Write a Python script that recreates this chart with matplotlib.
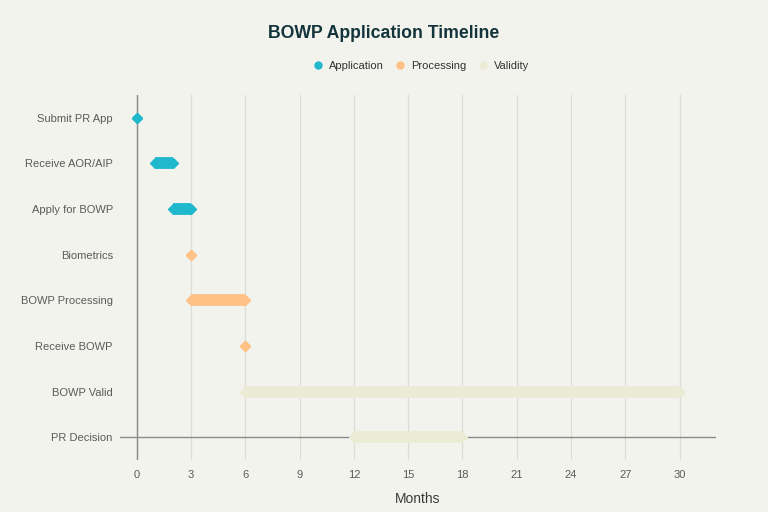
import matplotlib.pyplot as plt

plt.rcParams['font.family'] = ['Liberation Sans', 'DejaVu Sans']

tasks = ["Submit PR App", "Receive AOR/AIP", "Apply for BOWP", "Biometrics",
         "BOWP Processing", "Receive BOWP", "BOWP Valid", "PR Decision"]
starts = [0, 1, 2, 3, 3, 6, 6, 12]
ends = [0, 2, 3, 3, 6, 6, 30, 18]
phases = ["Application", "Application", "Application", "Processing",
          "Processing", "Processing", "Validity", "Validity"]
phase_names = ["Application", "Processing", "Validity"]
phase_colors = {"Application": "#1FB8CD", "Processing": "#FFC185", "Validity": "#ECEBD5"}
xticks = [0, 3, 6, 9, 12, 15, 18, 21, 24, 27, 30]

bg = "#F3F3EE"
fig = plt.figure(figsize=(7.68, 5.12), dpi=100, facecolor=bg)
ax = fig.add_axes([0.156, 0.1016, 0.776, 0.713], facecolor=bg)

for i, (s, e, p) in enumerate(zip(starts, ends, phases)):
    c = phase_colors[p]
    if e > s:
        ax.plot([s, e], [i, i], color=c, lw=8.5, solid_capstyle="butt", zorder=3)
    ax.plot([s, e], [i, i], color=c, lw=0, marker="D", markersize=5, zorder=4)

for x in xticks:
    ax.axvline(x, color="#DCDCD6", lw=0.9, zorder=1)
ax.axvline(0, color="#8A8A8A", lw=1, zorder=2)
ax.axhline(len(tasks) - 1, color="#8A8A8A", lw=1, zorder=2)

ax.set_xlim(-0.94, 32)
ax.set_ylim(len(tasks) - 0.5, -0.5)
ax.set_yticks(range(len(tasks)))
ax.set_yticklabels(tasks)
ax.set_xticks(xticks)
ax.tick_params(axis="both", length=0, labelsize=8, colors="#5A5A5A", pad=7)
ax.tick_params(axis="y", pad=5)
for sp in ax.spines.values():
    sp.set_visible(False)

ax.set_xlabel("Months", fontsize=10, color="#3A3A3A", labelpad=9)

fig.text(0.5, 0.935, "BOWP Application Timeline", ha="center", va="center",
         fontsize=12.7, fontweight="bold", color="#13343B")

handles = [plt.Line2D([], [], ls="", marker="o", markersize=5, color=phase_colors[p])
           for p in phase_names]
fig.legend(handles, phase_names, loc="center", bbox_to_anchor=(0.548, 0.871), ncol=3,
           frameon=False, fontsize=8, handlelength=1.0, handletextpad=0.5,
           columnspacing=1.0, labelcolor="#333333")

fig.savefig("out.png", dpi=100, facecolor=bg)
